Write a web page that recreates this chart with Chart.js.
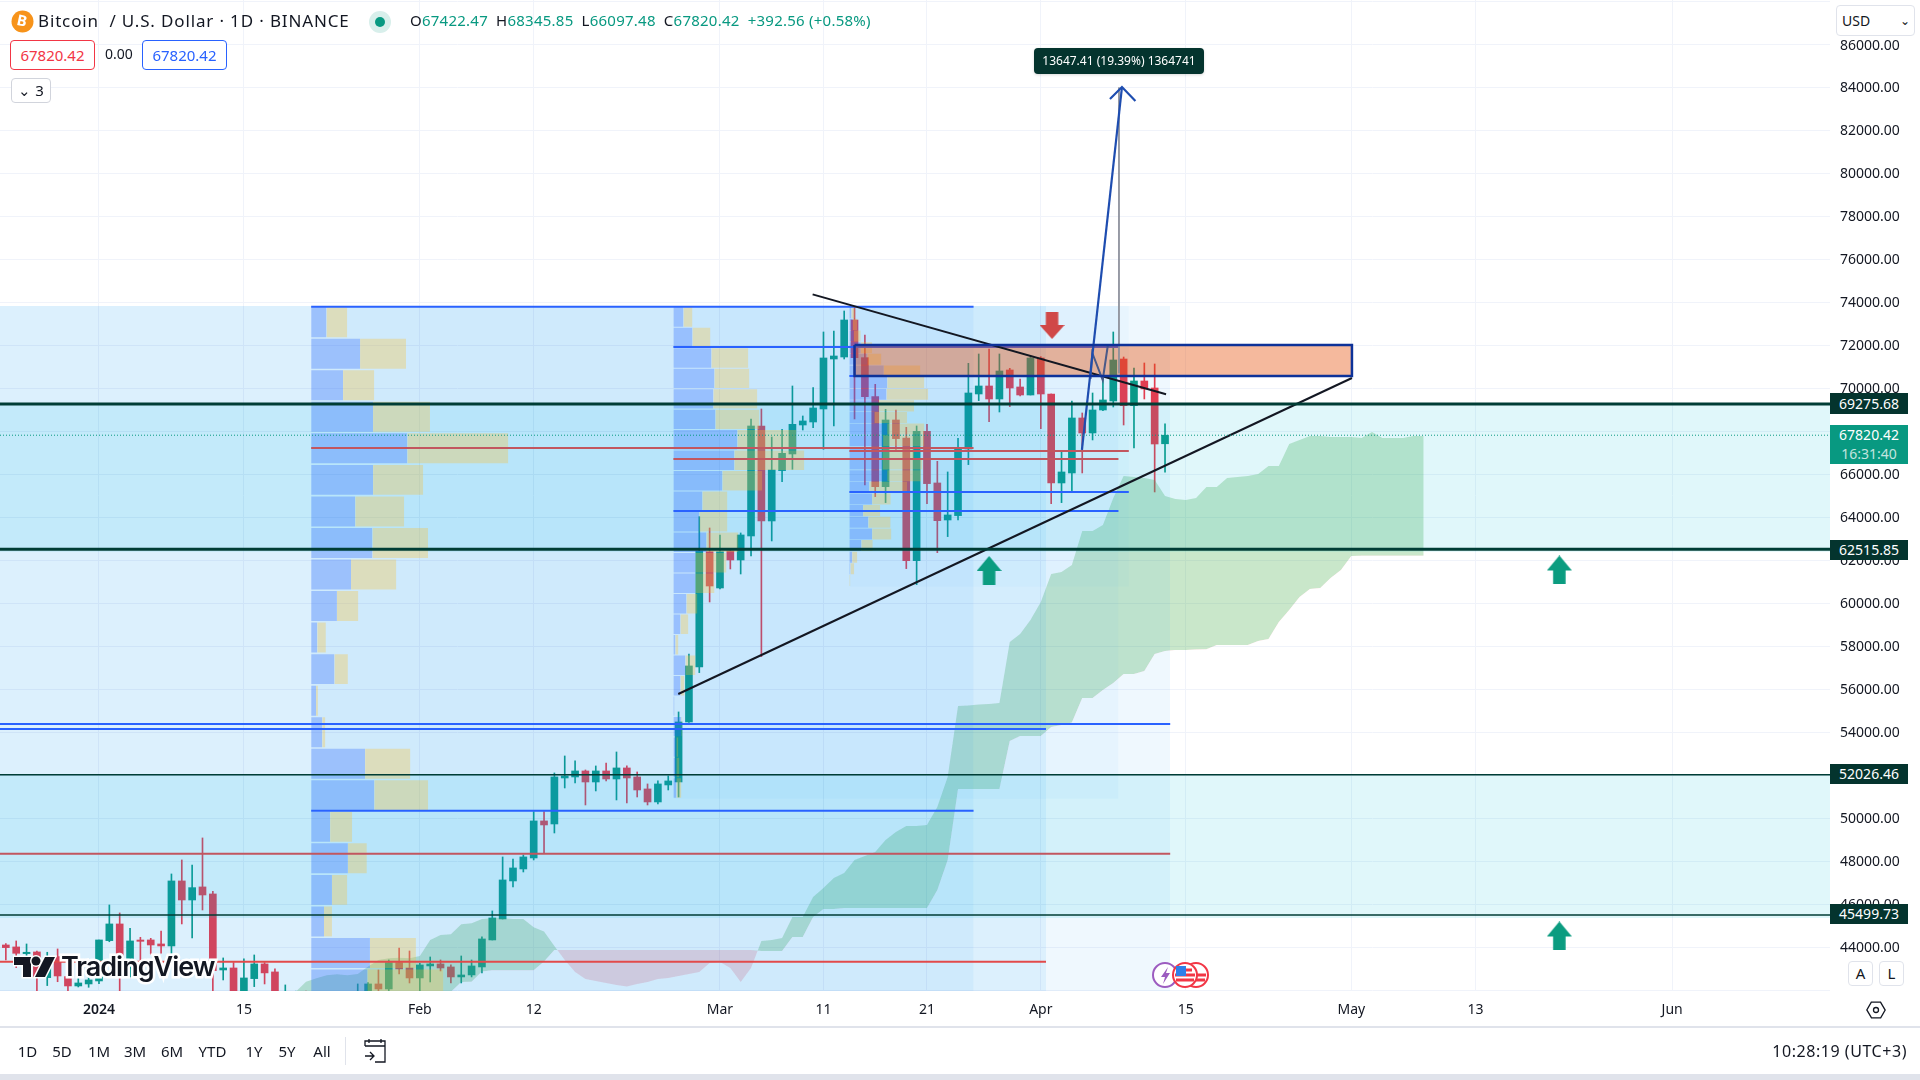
<!DOCTYPE html>
<html><head><meta charset="utf-8"><title>Bitcoin / U.S. Dollar</title>
<style>
html,body{margin:0;padding:0;background:#fff;width:1920px;height:1080px;overflow:hidden;font-family:"Noto Sans",sans-serif;color:#131722}
canvas{position:absolute;left:0;top:0}
.t{position:absolute;white-space:nowrap;line-height:1}
.tag{position:absolute;left:1830px;width:78px;height:20px;background:#04342e;color:#fff;font-size:14px;line-height:20px;text-align:center}
.box{position:absolute;box-sizing:border-box;border-radius:4px;font-size:14px;text-align:center;background:#fff}
.rg{position:absolute;top:1043px;font-size:15px;line-height:16px;transform:translateX(-50%);color:#131722}
</style></head><body>
<canvas id="c" width="1920" height="1080"></canvas>

<svg class="t" style="left:11px;top:10px" width="23" height="23"><circle cx="11.5" cy="11.5" r="11" fill="#f7931a"/></svg>
<div class="t" style="left:17px;top:13px;font-size:15px;font-weight:700;color:#fff;transform:rotate(12deg)">B</div>
<div class="t" style="left:38px;top:12px;font-size:17px;letter-spacing:.85px">Bitcoin &nbsp;/ U.S. Dollar · 1D · BINANCE</div>
<svg class="t" style="left:368px;top:10px" width="24" height="24"><circle cx="12" cy="12" r="11" fill="#d8efeb"/><circle cx="12" cy="12" r="5" fill="#089981"/></svg>
<div class="t" style="left:410px;top:13px;font-size:15px;letter-spacing:.24px;color:#089981"><span style="color:#131722">O</span>67422.47 <span style="margin-left:4px;color:#131722">H</span>68345.85 <span style="margin-left:4px;color:#131722">L</span>66097.48 <span style="margin-left:4px;color:#131722">C</span>67820.42 <span style="margin-left:4px">+392.56 (+0.58%)</span></div>
<div class="box" style="left:10px;top:40px;width:85px;height:30px;border:1px solid #f23645;color:#f23645;line-height:28px;font-size:15px">67820.42</div>
<div class="t" style="left:105px;top:47px;font-size:14px">0.00</div>
<div class="box" style="left:142px;top:40px;width:85px;height:30px;border:1px solid #2962ff;color:#2962ff;line-height:28px;font-size:15px">67820.42</div>
<div class="box" style="left:11px;top:78px;width:40px;height:25px;border:1px solid #d1d4dc;line-height:23px;font-size:15px">⌄ 3</div>
<div style="position:absolute;left:1831px;top:0;width:89px;height:40px;background:#fff"></div>
<div class="box" style="left:1836px;top:5px;width:79px;height:31px;border:1px solid #e0e3eb;font-size:14px;line-height:29px;text-align:left;padding-left:5px">USD<span style="position:absolute;right:4px;top:0;font-size:12px">⌄</span></div>

<div class="t" style="left:1034px;top:48px;width:170px;height:26px;background:#04342e;border-radius:4px;color:#fff;font-size:12px;line-height:26px;text-align:center;box-shadow:0 1px 3px rgba(0,0,0,.15)">13647.41 (19.39%) 1364741</div>

<div class="tag" style="top:393px;height:21px;line-height:21px">69275.68</div>
<div class="tag" style="top:425px;height:39px;background:#089981;line-height:19px">67820.42<br><span style="opacity:.75">16:31:40</span></div>
<div class="tag" style="top:540px">62515.85</div>
<div class="tag" style="top:764px">52026.46</div>
<div class="tag" style="top:904px">45499.73</div>

<svg class="t" style="left:13px;top:954px" width="44" height="26"><g fill="#131722" stroke="#fff" stroke-width="3" paint-order="stroke"><path d="M1 3H18V23H10V11H1Z"/><circle cx="23" cy="7" r="4.5"/><path d="M32 3H42L32 23H22Z"/></g></svg>
<div class="t" style="left:61px;top:953px;font-size:27px;font-weight:600;font-family:Inter,sans-serif;letter-spacing:-1px;color:#131722;-webkit-text-stroke:5px #fff;paint-order:stroke fill">TradingView</div>

<svg class="t" style="left:1150px;top:958px" width="62" height="34">
<circle cx="15" cy="17" r="12" fill="#fff" stroke="#9c5cc0" stroke-width="2"/><path d="M18 9L11 19H15L13 26L20 15H16Z" fill="#9c5cc0"/>
<circle cx="46" cy="17" r="12" fill="#fff" stroke="#f23645" stroke-width="2"/><path d="M36 17H56M37 22H55" stroke="#f23645" stroke-width="3"/>
<circle cx="35" cy="17" r="12" fill="#fff" stroke="#f23645" stroke-width="2"/><path d="M25 17H45M26 22H44M28 12H42" stroke="#f23645" stroke-width="3"/><rect x="26" y="8" width="10" height="10" fill="#2f7fe8"/>
</svg>
<div class="box" style="left:1848px;top:961px;width:25px;height:25px;border:1px solid #e0e3eb;font-size:15px;line-height:23px">A</div>
<div class="box" style="left:1879px;top:961px;width:25px;height:25px;border:1px solid #e0e3eb;font-size:15px;line-height:23px">L</div>
<svg class="t" style="left:1865px;top:999px" width="22" height="22"><path d="M11 2L19 6.500V15.500L11 20L3 15.500V6.500Z" transform="translate(11 11) rotate(30) translate(-11 -11)" fill="none" stroke="#131722" stroke-width="1.300"/><circle cx="11" cy="11" r="2.500" fill="none" stroke="#131722" stroke-width="1.300"/></svg>

<div style="position:absolute;left:0;top:1026px;width:1920px;height:2px;background:#e0e3eb"></div>
<div class="rg" style="left:27.500px">1D</div><div class="rg" style="left:62px">5D</div><div class="rg" style="left:99px">1M</div><div class="rg" style="left:135px">3M</div><div class="rg" style="left:172px">6M</div><div class="rg" style="left:212.500px">YTD</div><div class="rg" style="left:254px">1Y</div><div class="rg" style="left:287px">5Y</div><div class="rg" style="left:322px">All</div>
<div style="position:absolute;left:345px;top:1037px;width:1px;height:28px;background:#e0e3eb"></div>
<svg class="t" style="left:363px;top:1038px" width="24" height="26" fill="none" stroke="#131722" stroke-width="1.300"><path d="M2 8V3H22V24H12M2 8H22M6 1V5M18 1V5M2 18H10M7 14L11 18L7 22"/></svg>
<div class="t" style="right:13px;top:1043px;font-size:16px;line-height:16px;letter-spacing:.55px">10:28:19 (UTC+3)</div>
<div style="position:absolute;left:0;top:1074px;width:1920px;height:6px;background:#e0e3eb"></div>

<script src="https://cdn.jsdelivr.net/npm/chart.js@4/dist/chart.umd.min.js"></script>
<script>
// ---- axes ----
const xTickDays=[0,14,31,42,60,70,80,91,105,121,133,152];
const xTickLabels=['2024','15','Feb','12','Mar','11','21','Apr','15','May','13','Jun'];
const yTickValues=[42000,44000,46000,48000,50000,52000,54000,56000,58000,60000,62000,64000,66000,68000,70000,72000,74000,76000,78000,80000,82000,84000,86000,88000];
const xMin=-9.565, xMax=167.25, yMin=41958, yMax=88072;

// ---- candles (day 0 = 1 Jan 2024) ----
const candleDays=[-9,-8,-7,-6,-5,-4,-3,-2,-1,0,1,2,3,4,5,6,7,8,9,10,11,12,13,14,15,16,17,18,19,20,21,22,23,24,25,26,27,28,29,30,31,32,33,34,35,36,37,38,39,40,41,42,43,44,45,46,47,48,49,50,51,52,53,54,55,56,57,58,59,60,61,62,63,64,65,66,67,68,69,70,71,72,73,74,75,76,77,78,79,80,81,82,83,84,85,86,87,88,89,90,91,92,93,94,95,96,97,98,99,100,101,102,103];
const opens=[44100,44008,43697,43775,42580,43560,42627,42193,42286,42426,44302,45078,43000,44330,44333,44147,44054,47079,46194,46800,46474,42937,43030,41900,42534,43217,42845,41262,41618,41665,41545,39507,39845,40077,39933,41816,42286,42053,43279,43030,42565,43124,43217,43077,42612,42705,43077,44333,45310,47079,47637,48149,49871,49731,51871,51918,52197,51685,52197,51825,52337,51918,51360,50755,51546,51685,54477,57036,62403,60712,62434,62015,63132,68250,63830,66172,66947,68296,68436,69041,71367,71460,73182,71429,69615,65427,68529,67692,61984,68002,65598,63876,64078,67180,69739,70111,69506,70856,70065,69692,71414,69739,65598,66063,68622,67924,68994,69413,71367,69196,70344,70018,67422.47];
const highs=[44163,44287,44147,43820,43760,43915,43100,42612,42612,44333,45962,45590,44876,44457,44410,44752,47404,48056,47823,49080,46598,43496,43279,43450,43635,43279,42984,42240,41950,41950,41689,40129,40555,40348,42286,42348,42937,43403,43961,43821,43248,43542,43403,43170,43589,43403,44473,45683,48195,48102,48289,50305,50305,52104,52895,52663,52244,52430,52569,53081,52430,52151,51592,51732,51965,54943,57641,64031,63504,63178,62470,63271,68576,69041,67738,68095,70111,68715,70034,72624,72670,73601,73802,72484,70189,69026,68994,68188,68250,68327,66606,66110,67676,71166,71600,71833,71600,70933,70437,71507,71476,69739,67040,69413,68855,69785,70576,72624,71460,70949,71181,71135,68345.85];
const lows=[43403,43046,43400,41900,42210,42390,41900,42146,42131,42300,44250,40750,42613,42700,43680,43713,43713,45078,44427,45729,41500,42472,41700,41700,42162,42286,40550,40280,41446,41500,39431,38555,39484,39500,39767,41394,41620,41800,42751,42332,41900,42379,42891,42332,42332,42612,42798,44333,45310,46799,47497,48056,48366,49312,51406,51639,50615,51267,51732,50848,50708,50987,50615,50662,51313,50987,54450,56773,60060,60665,61596,61363,62200,57517,62900,65660,66234,68064,68172,67164,68250,71367,68576,65505,64962,64683,67164,61612,60867,64636,62356,63101,63876,66451,69429,68451,68901,69150,69646,69692,68126,64636,64683,65210,66063,67599,68963,69134,68296,67226,69506,65179,66097.48];
const closes=[43977,43713,43760,42596,43500,42658,42193,42332,42472,44333,45078,43000,44287,44270,44100,44054,47079,46194,46768,46427,42906,43030,41900,42565,43217,42800,41700,41618,41665,41545,39507,39845,40077,39933,41816,42286,42053,43279,42984,42565,43170,43217,43030,42612,42705,43124,44380,45357,47125,47683,48196,49871,49685,51918,51964,52197,51685,52197,51825,52337,51871,51313,50755,51592,51732,54477,57083,62432,60805,62403,62015,63178,68250,63830,66203,66978,68328,68483,69087,71414,71507,73182,71429,69615,65427,68529,67661,61984,68002,65567,63845,64109,67180,69785,70111,69506,70809,70018,69692,71414,69739,65598,66110,68622,67924,68994,69460,71321,69196,70344,69972,67412,67820.42];

// ---- ichimoku cloud ----
const spanDays=[18,19,20,21,22,23,24,25,26,27,28,29,30,31,32,33,34,35,36,37,38,39,40,41,42,43,44,45,46,47,48,49,50,51,52,53,54,55,56,57,58,59,60,61,62,63,64,65,66,67,68,69,70,71,72,73,74,75,76,77,78,79,80,81,82,83,84,85,86,87,88,89,90,91,92,93,94,95,96,97,98,99,100,101,102,103,104,105,106,107,108,109,110,111,112,113,114,115,116,117,118,119,120,121,122,123,124,125,126,127,128];
const spanA=[41000,41914,42394,42550,42689,42736,42689,42751,43093,43403,43480,43511,43480,43589,44333,44566,44597,45062,45109,45310,45357,45357,45310,45310,44923,44721,44054,43402,42843,42518,42425,42332,42239,42165,42285,42378,42518,42564,42658,42751,42843,43262,43309,43029,42378,43029,44286,44333,44426,45403,45403,46334,46752,47218,47450,48055,48241,48427,48986,49358,49637,49637,49684,50521,51917,55221,55244,55291,55314,55361,58199,58571,59222,60060,61363,61456,61782,63364,63364,63643,64899,65923,65876,65830,65737,64992,64853,64806,64899,65411,65411,65830,65876,65923,66016,66388,66388,67412,67598,67784,67784,67737,67737,67737,67691,67970,67691,67691,67691,67784,67784];
const spanB=[41000,41000,41000,41000,41000,41000,41000,41000,41000,41000,41000,41000,41000,41000,41000,41000,41914,42379,42394,42860,42922,42922,42922,42922,42922,43325,43868,43868,43868,43868,43868,43868,43868,43868,43868,43868,43868,43868,43868,43868,43868,43868,43868,43868,43868,43868,43821,43821,43821,44472,44472,45403,45775,45775,45822,45822,45822,45822,45822,45822,45822,45822,45822,46659,48055,51359,51359,51359,51359,51359,53592,53825,53825,53825,54244,54337,54453,55593,55593,55965,56291,56710,56710,56849,57640,57780,57826,57826,57850,57859,58059,58059,58059,58059,58245,58338,59129,59688,60293,60665,60711,61177,61549,62200,62214,62214,62214,62214,62214,62214,62214];

// ---- volume profiles: up and down volume per price row, in days of width ----
const vp1Start=20.5, vp1Top=73777, vp1Step=1467.6;
const vp1Up=[1.48,4.73,3.08,5.98,9.29,5.98,4.26,5.92,3.85,2.49,0.59,2.25,0.47,1.07,5.21,6.10,1.83,3.55,2.01,1.24,5.68,5.44];
const vp1Down=[2.01,4.44,3.02,5.50,9.76,4.85,4.73,5.38,4.38,2.07,0.83,1.30,0.18,0.30,4.38,5.21,2.13,1.83,1.48,0.77,4.44,7.34];
const vp2Start=55.5, vp2Top=73777, vp2Step=953.2;
const vp2Up=[.97,1.84,3.67,3.96,3.86,4.06,6.18,5.89,4.73,2.80,2.51,3.19,2.13,2.13,1.26,.68,.19,1.16,.68,.10,.77,.29,.29,.29];
const vp2Down=[.87,1.74,3.57,3.38,4.25,4.25,5.70,6.76,3.86,2.42,2.71,3.09,3.00,1.84,1.06,.77,.29,.97,.39,.03,.10,.19,.29,.48];
const vp3Start=72.5, vp3Top=73777, vp3Step=541.7;
const vp3Up=[.20,.33,.43,1.10,1.76,3.33,3.66,3.59,2.83,2.43,3.66,3.26,3.19,3.19,3.66,1.93,2.20,1.33,1.83,2.20,1.16,.27,.10,.00];
const vp3Down=[.33,.43,.67,1.10,1.33,3.53,3.59,4.03,3.43,3.16,3.59,3.99,3.06,3.89,3.26,3.66,1.80,1.66,2.16,1.86,1.10,.50,.37,.10];

// ---- shaded ranges ----
const rangeEnds=[103.5,91.5];
const rangeTop=73833;
const vpBoxStart=[20.5,55.5,72.5], vpBoxEnd=[84.5,98.5,99.5], vpBoxLow=[yMin,50900,60780];
const bandHigh=[69275.68,52026.46], bandLow=[62400,45356];

// ---- levels ----
const blueStart=[20.5,55.5,72.5,72.5,55.5,xMin,xMin,20.5], blueEnd=[84.5,98.5,99.5,99.5,98.5,103.5,91.5,84.5], bluePrice=[73800,71925,70575,65180,64296,54388,54155,50350];
const redStart=[20.5,72.5,55.5,xMin,xMin], redEnd=[84.5,99.5,98.5,103.5,91.5], redPrice=[67226,67086,66714,48350,43320];
const keyLevels=[69275.68,62515.85,52026.46,45499.73], keyWidths=[3,3,1.5,1.5];
const lastPrice=67820.42;

// ---- drawings ----
const fallDays=[68.95,103.1], fallPrices=[74373,69724];
const riseDays=[55.97,121.06], risePrices=[55779,70483];
const zoneStart=73, zoneEnd=121.06, zoneHigh=72018, zoneLow=70576;
const targetDays=[94.97,98.84], targetPrices=[67133,84023];
const headDays=[97.68,98.84,100.14], headPrices=[83464,84023,83371];
const zigDays=[95.8,95.97,96.98,97.48], zigPrices=[70436,71646,70390,72018];
const stemDays=[98.55,98.55], stemPrices=[84000,70700];
const upDays=[86,141.1,141.1], upPrices=[61526,61549,44519];
const downDays=[92.08], downPrices=[72926];

// ---- colours ----
const green='#089981', red='#f23645';
const rangeShade=['rgba(33,150,243,.07)','rgba(33,150,243,.09)'];
const boxShade=['rgba(33,150,243,.065)','rgba(33,150,243,.04)','rgba(33,150,243,.03)'];
const ds=[];
const add=d=>{d.order=-ds.length;ds.push(d);};
const pts=(xs,ys)=>xs.map((x,i)=>({x,y:ys[i]}));
const rect=(x0,x1,lo,hi,color)=>add({type:'line',data:[{x:x0,y:hi},{x:x1,y:hi}],fill:{value:lo},backgroundColor:color,borderWidth:0,pointRadius:0});
const path=(xs,ys,color,width,dash)=>add({type:'line',data:pts(xs,ys),borderColor:color,borderWidth:width,borderDash:dash||[],pointRadius:0,fill:false,tension:0});

// candles
add({type:'bar',grouped:false,barThickness:1,data:candleDays.map((d,i)=>({x:d,y:[lows[i],highs[i]]})),backgroundColor:closes.map((c,i)=>c>=opens[i]?green:red)});
add({type:'bar',grouped:false,barThickness:7,data:candleDays.map((d,i)=>({x:d,y:[opens[i],closes[i]]})),backgroundColor:closes.map((c,i)=>c>=opens[i]?green:red)});

// cloud
add({type:'line',data:pts(spanDays,spanA),borderWidth:0,pointRadius:0,tension:0,fill:{target:'+1',above:'rgba(76,175,80,.3)',below:'rgba(242,54,69,.2)'}});
add({type:'line',data:pts(spanDays,spanB),borderWidth:0,pointRadius:0,tension:0,fill:false});

// shaded bands and ranges
bandHigh.forEach((h,i)=>rect(xMin,xMax,bandLow[i],h,'rgba(0,188,212,.12)'));
rangeEnds.forEach((e,i)=>rect(xMin,e,yMin,rangeTop,rangeShade[i]));
vpBoxStart.forEach((s,i)=>rect(s,vpBoxEnd[i],vpBoxLow[i],rangeTop,boxShade[i]));

// volume profiles
const profile=(start,top,step,up,down)=>{
  const gap=step*.05;
  up.forEach((u,i)=>{
    const hi=top-i*step, lo=hi-step+gap;
    if(u>0) rect(start,start+u,lo,hi,'rgba(41,98,255,.3)');
    rect(start+u,start+u+down[i],lo,hi,'rgba(251,192,45,.3)');
  });
};
profile(vp1Start,vp1Top,vp1Step,vp1Up,vp1Down);
profile(vp2Start,vp2Top,vp2Step,vp2Up,vp2Down);
profile(vp3Start,vp3Top,vp3Step,vp3Up,vp3Down);

// level lines
redPrice.forEach((p,i)=>path([redStart[i],redEnd[i]],[p,p],i===4?'#e24a4a':'#c2565f',2));
bluePrice.forEach((p,i)=>path([blueStart[i],blueEnd[i]],[p,p],'#2962ff',2));

// zone, trend lines, drawing
add({type:'line',data:pts([zoneStart,zoneEnd],[zoneHigh,zoneHigh]),fill:{value:zoneLow},backgroundColor:'rgba(230,80,10,.4)',borderWidth:0,pointRadius:0});
path(fallDays,fallPrices,'#131722',2);
path(riseDays,risePrices,'#131722',2);
path(stemDays,stemPrices,'#8a8f9a',1);
path(zigDays,zigPrices,'#4a5a88',2);
path(targetDays,targetPrices,'#1e4db0',2.2);
path(headDays,headPrices,'#1e4db0',2.2);
path([zoneStart,zoneEnd,zoneEnd,zoneStart,zoneStart],[zoneHigh,zoneHigh,zoneLow,zoneLow,zoneHigh],'#0d3299',2.5);

// key levels
path([xMin,xMax],[lastPrice,lastPrice],green,1,[1,2]);
keyLevels.forEach((p,i)=>path([xMin,xMax],[p,p],'#003d35',keyWidths[i]));

// arrow marks
const arrow=(color,down,w,h)=>{
  const c=document.createElement('canvas');c.width=w;c.height=h;
  const g=c.getContext('2d');g.fillStyle=color;
  if(down){g.translate(0,h);g.scale(1,-1);}
  const head=h*.52,sx=w*.25;
  g.beginPath();g.moveTo(w/2,0);g.lineTo(w,head);g.lineTo(w-sx,head);g.lineTo(w-sx,h);g.lineTo(sx,h);g.lineTo(sx,head);g.lineTo(0,head);g.closePath();g.fill();
  return c;
};
add({type:'line',showLine:false,data:pts(upDays,upPrices),pointStyle:arrow('#0b9c80',false,25,29),pointRadius:12});
add({type:'line',showLine:false,data:pts(downDays,downPrices),pointStyle:arrow('#d04848',true,25,27),pointRadius:12});

new Chart(document.getElementById('c'),{
  type:'line',
  data:{datasets:ds},
  options:{
    responsive:false,animation:false,devicePixelRatio:1,parsing:true,
    layout:{padding:0,autoPadding:false},
    plugins:{legend:{display:false},tooltip:{enabled:false},title:{display:false}},
    events:[],
    scales:{
      x:{type:'linear',min:xMin,max:xMax,offset:false,
        afterBuildTicks:a=>{a.ticks=xTickDays.map(v=>({value:v}));},
        afterFit:a=>{a.height=89;a.paddingLeft=0;a.paddingRight=0;a.paddingTop=0;a.paddingBottom=0;},
        grid:{color:'#f0f3fa',offset:false,drawTicks:false},border:{display:false},
        ticks:{autoSkip:false,maxRotation:0,padding:11,color:'#131722',
          font:c=>({family:'"Noto Sans"',size:14,weight:c.tick&&c.tick.value===0?'600':'400'}),
          callback:v=>{const i=xTickDays.indexOf(v);return i<0?'':xTickLabels[i];}}},
      y:{type:'linear',position:'right',min:yMin,max:yMax,
        afterBuildTicks:a=>{a.ticks=yTickValues.map(v=>({value:v}));},
        afterFit:a=>{a.width=90;a.paddingTop=0;a.paddingBottom=0;a.paddingLeft=0;a.paddingRight=0;},
        grid:{color:'#f0f3fa',drawTicks:false},border:{display:false},
        ticks:{autoSkip:false,padding:10,labelOffset:1,color:'#131722',font:{family:'"Noto Sans"',size:14},
          callback:v=>(v===42000||v===88000)?'':v.toFixed(2)}}
    }
  }
});
</script>
</body></html>
